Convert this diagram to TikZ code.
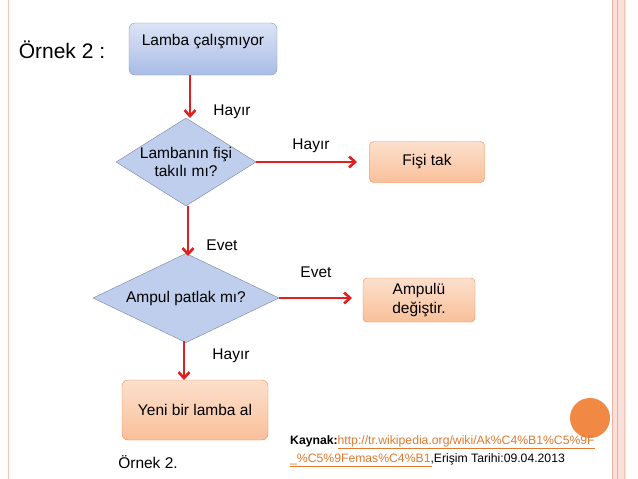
\documentclass[tikz,border=0pt]{standalone}
\usepackage{fontspec}
\setmainfont{Liberation Sans}
\usetikzlibrary{shapes.geometric,arrows.meta}
\definecolor{bluef}{HTML}{C5D2EE}
\definecolor{blued}{HTML}{A9BCE6}
\definecolor{orf}{HTML}{F9C09A}
\definecolor{ord}{HTML}{F08A4B}
\definecolor{pinkl}{HTML}{F2C4B4}
\definecolor{arr}{HTML}{E02020}
\definecolor{linkc}{HTML}{E07A30}
\newcommand{\fs}{\fontsize{15.5}{18.5}\selectfont}
\tikzset{
 bbox/.style={draw=blued!80!black, rounded corners=6pt, top color=bluef!60, bottom color=blued},
 dia/.style={diamond, aspect=1.6, draw=blued!70!black, fill=bluef!80!blued, inner sep=0pt, font=\fs, align=center},
 obox/.style={draw=ord, rounded corners=4pt, top color=orf!50, bottom color=orf, font=\fs, align=center},
 ar/.style={draw=arr, line width=2.6pt, -{Straight Barb[length=6pt,width=11pt]}},
 lbl/.style={font=\fs},
}
\begin{document}
\begin{tikzpicture}[x=1pt,y=-1pt]
\useasboundingbox (0,0) rectangle (638,479);
\fill[white] (0,0) rectangle (638,479);
\draw[pinkl, line width=1pt] (8,0) -- (8,479);
\fill[pinkl!50] (612,0) rectangle (626,479);
\draw[pinkl!90!red, line width=1pt] (612,0) -- (612,479) (617,0) -- (617,479);
\draw[pinkl] (624,0) -- (624,479);
\node[font=\fontsize{21}{25}\selectfont] (ex) at (62,50) {Örnek 2 :};
\node[bbox, minimum width=148pt, minimum height=52pt] (b1) at (203,49) {};
\node[font=\fs] at (203,42) {Lamba çalışmıyor};
\node[dia, minimum width=140pt, minimum height=88pt] (d1) at (186,162) {Lambanın fişi\\takılı mı?};
\node[obox, minimum width=115pt, minimum height=41pt] (f) at (427,162) {Fişi tak};
\node[dia, minimum width=186pt, minimum height=86pt] (d2) at (186,298) {Ampul patlak mı?};
\node[obox, minimum width=112pt, minimum height=44pt] (a) at (419,300) {Ampulü\\değiştir.};
\node[obox, minimum width=146pt, minimum height=60pt, rounded corners=6pt] (y) at (195,410) {Yeni bir lamba al};
\draw[ar] (190,75) -- (190,118);
\draw[ar] (d1.east) -- (357,162);
\draw[ar] (188,206) -- (188,256);
\draw[ar] (d2.east) -- (352,298);
\draw[ar] (184,341) -- (184,380);
\node[lbl] at (232,112) {Hayır};
\node[lbl] at (311,146) {Hayır};
\node[lbl] at (222,245) {Evet};
\node[lbl] at (316,272) {Evet};
\node[lbl] at (231,356) {Hayır};
\node[font=\fs] at (148,462) {Örnek 2.};
\fill[ord!90!orange] (590,418) circle (20);
\node[anchor=west, font=\fontsize{12.2}{15}\selectfont, inner sep=0pt] (k1) at (290,441) {\textbf{Kaynak:}\textcolor{linkc}{http://tr.wikipedia.org/wiki/Ak\%C4\%B1\%C5\%9F}};
\node[anchor=west, font=\fontsize{12.2}{15}\selectfont, inner sep=0pt] (k2) at (290,459) {\textcolor{linkc}{\_\%C5\%9Femas\%C4\%B1},Erişim Tarihi:09.04.2013};
\draw[linkc, line width=0.6pt] (338,448) -- (k1.east |- 0,448);
\draw[linkc, line width=0.6pt] (290,466) -- (432,466);
\end{tikzpicture}
\end{document}
